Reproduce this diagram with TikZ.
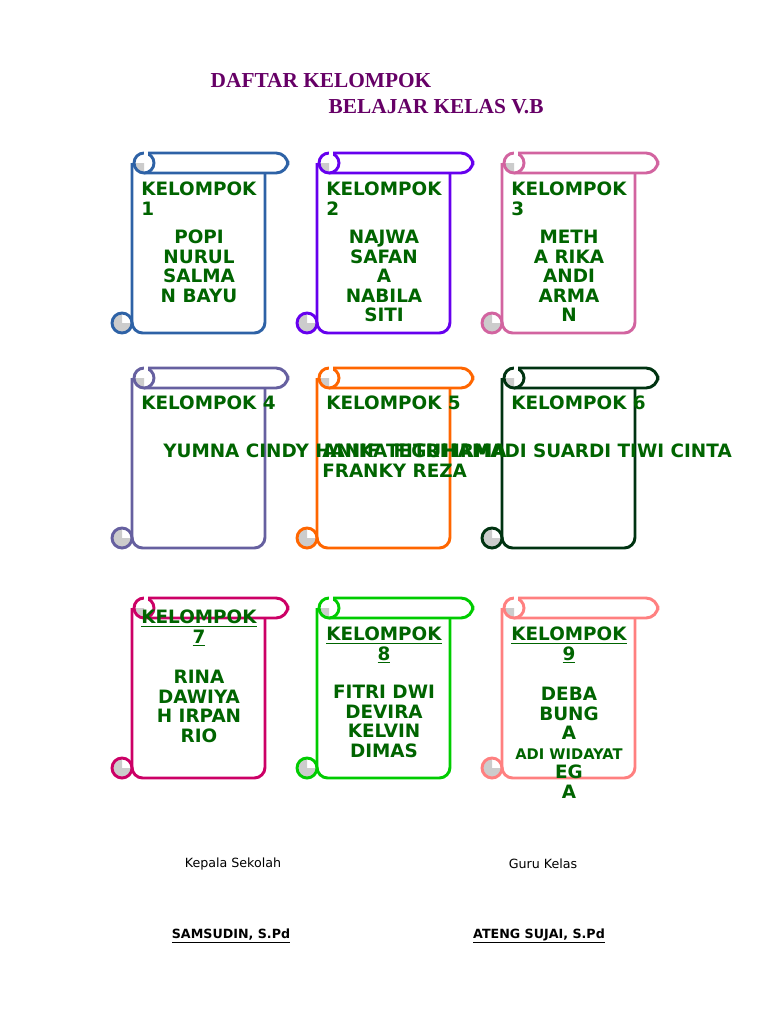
\documentclass[tikz,border=0pt]{standalone}
\usepackage{fontspec}
\setmainfont{DejaVu Sans}
\newfontfamily\ttlfont{Liberation Serif}
\definecolor{tg}{RGB}{0,100,0}
\definecolor{tp}{RGB}{102,0,102}
\definecolor{c1}{RGB}{46,98,166}
\definecolor{c2}{RGB}{102,0,238}
\definecolor{c3}{RGB}{210,100,160}
\definecolor{c4}{RGB}{102,96,160}
\definecolor{c5}{RGB}{255,102,0}
\definecolor{c6}{RGB}{0,51,17}
\definecolor{c7}{RGB}{204,0,102}
\definecolor{c8}{RGB}{0,204,0}
\definecolor{c9}{RGB}{255,128,128}
\tikzset{lbl/.style={font=\fontsize{13.8}{14.6}\selectfont\bfseries,text=tg,inner sep=0pt},
 names/.style={lbl,align=center,anchor=north},
 klabel/.style={lbl,align=left,anchor=north west}}
\newcommand\scroll[4]{% x, top, bottom, colour
 \begin{scope}[line width=2.2pt,draw=#4]
 \draw[rounded corners=9] (#1+12,#2) -- (#1+156,#2) -- (#1+156,#2+20) -- (#1+12,#2+20);
 \draw[rounded corners=8] (#1,#2+10) -- (#1,#3) -- (#1+133,#3) -- (#1+133,#2+20);
 \fill[white] (#1+12,#2+10) circle[radius=10];
 \begin{scope}\clip (#1,#2+10) rectangle (#1+12,#2+22);
 \fill[gray!40] (#1+12,#2+10) circle[radius=10];\end{scope}
 \draw (#1+12,#2+10) circle[radius=10];
 \fill[white] (#1+12,#2-2) rectangle (#1+16,#2+4);
 \begin{scope}\clip (#1-21,#3-21) rectangle (#1-10,#3+1);
 \fill[gray!40] (#1-10,#3-10) circle[radius=10];\end{scope}
 \begin{scope}\clip (#1-10,#3-10) rectangle (#1+1,#3+1);
 \fill[gray!40] (#1-10,#3-10) circle[radius=10];\end{scope}
 \draw (#1-10,#3-10) circle[radius=10];
 \end{scope}}
\begin{document}
\begin{tikzpicture}[x=0.75pt,y=-0.75pt]
\useasboundingbox (0,0) rectangle (768,1024);
\node[font=\ttlfont\fontsize{16}{18}\selectfont\bfseries,text=tp,anchor=west] (t1) at (206,81) {DAFTAR KELOMPOK};
\node[font=\ttlfont\fontsize{16}{18}\selectfont\bfseries,text=tp,anchor=west] (t2) at (324,107) {BELAJAR KELAS V.B};
\scroll{132}{153}{333}{c1}\scroll{317}{153}{333}{c2}\scroll{502}{153}{333}{c3}
\scroll{132}{368}{548}{c4}\scroll{317}{368}{548}{c5}\scroll{502}{368}{548}{c6}
\scroll{132}{598}{778}{c7}\scroll{317}{598}{778}{c8}\scroll{502}{598}{778}{c9}
% row 1
\node[klabel] (k1) at (141,182) {KELOMPOK\\1};
\node[klabel] (k2) at (326,182) {KELOMPOK\\2};
\node[klabel] (k3) at (511,182) {KELOMPOK\\3};
\node[names] (n1) at (199,230) {POPI\\NURUL\\SALMA\\N BAYU};
\node[names] (n2) at (384,230) {NAJWA\\SAFAN\\A\\NABILA\\SITI};
\node[names] (n3) at (569,230) {METH\\A RIKA\\ANDI\\ARMA\\N};
% row 2
\node[klabel] (k4) at (141,396) {KELOMPOK 4};
\node[klabel] (k5) at (326,396) {KELOMPOK 5};
\node[klabel] (k6) at (511,396) {KELOMPOK 6};
\node[lbl,anchor=north west] (n4) at (163,444) {YUMNA CINDY HANIF TEGUH};
\node[lbl,anchor=north west,align=left] (n5) at (322,444) {ANIKA FITRI IRMA\\FRANKY REZA};
\node[lbl,anchor=north east] (n6) at (732,444) {HAMADI SUARDI TIWI CINTA};
% row 3
\node[names] (k7) at (199,610) {\underline{KELOMPOK}\\\underline{7}};
\node[names] (k8) at (384,627) {\underline{KELOMPOK}\\\underline{8}};
\node[names] (k9) at (569,627) {\underline{KELOMPOK}\\\underline{9}};
\node[names] (n7) at (199,670) {RINA\\DAWIYA\\H IRPAN\\RIO};
\node[names] (n8) at (384,685) {FITRI DWI\\DEVIRA\\KELVIN\\DIMAS};
\node[names] (n9) at (569,687) {DEBA\\BUNG\\A\\{\fontsize{11}{14.6}\selectfont ADI WIDAYAT}\\EG\\A};
% signatures
\node[font=\fontsize{9.5}{11}\selectfont] (s1) at (233,864) {Kepala Sekolah};
\node[font=\fontsize{9.5}{11}\selectfont] (s2) at (543,864) {Guru Kelas};
\node[font=\fontsize{9.5}{11}\selectfont\bfseries] (s3) at (231,936) {\underline{SAMSUDIN, S.Pd}};
\node[font=\fontsize{9.5}{11}\selectfont\bfseries] (s4) at (539,936) {\underline{ATENG SUJAI, S.Pd}};
\end{tikzpicture}
\end{document}
